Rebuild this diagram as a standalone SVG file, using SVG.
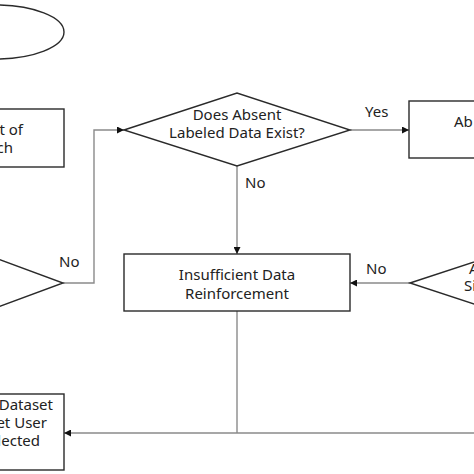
<svg xmlns="http://www.w3.org/2000/svg" width="474" height="474" viewBox="0 0 474 474">
<defs>
<style>
.shape{fill:#fff;stroke:#2a2a2a;stroke-width:1.4}
.conn{fill:none;stroke:#8a8a8a;stroke-width:1.4}
text{font-family:"Noto Sans","Open Sans","DejaVu Sans",sans-serif;font-size:15px;fill:#222}
.c{text-anchor:middle}
.e{text-anchor:end}
</style>
<marker id="arr" viewBox="0 0 10 10" refX="10" refY="5" markerWidth="7" markerHeight="7" markerUnits="userSpaceOnUse" orient="auto">
<path d="M0,0 L10,5 L0,10 z" fill="#111"/>
</marker>
</defs>
<rect width="474" height="474" fill="#fff"/>
<g id="connectors">
<path class="conn" d="M350,130 H409" marker-end="url(#arr)"/>
<path class="conn" d="M237,166 V254" marker-end="url(#arr)"/>
<path class="conn" d="M410,283 H350" marker-end="url(#arr)"/>
<path class="conn" d="M63,283 H94 V130 H124" marker-end="url(#arr)"/>
<path class="conn" d="M237,311 V433"/>
<path class="conn" d="M480,433 H64" marker-end="url(#arr)"/>
<text x="365" y="117">Yes</text>
<text x="245" y="188">No</text>
<text x="366" y="274">No</text>
<text x="59" y="267">No</text>
</g>
<g id="start">
<ellipse class="shape" cx="-5" cy="32" rx="69" ry="27"/>
</g>
<g id="box-top-left">
<rect class="shape" x="-20" y="109" width="84" height="58"/>
<text class="e" x="23" y="135">t of</text>
<text class="e" x="13" y="153">ch</text>
</g>
<g id="decision-absent">
<polygon class="shape" points="124,130 237,93 350,130 237,166"/>
<text class="c" x="237" y="120">Does Absent</text>
<text class="c" x="237" y="138">Labeled Data Exist?</text>
</g>
<g id="box-abs">
<rect class="shape" x="409" y="101" width="100" height="57"/>
<text x="454" y="127">Ab</text>
</g>
<g id="decision-left">
<polygon class="shape" points="-37,246 63,283 -37,320"/>
</g>
<g id="box-insufficient">
<rect class="shape" x="124" y="254" width="226" height="57"/>
<text class="c" x="237" y="280">Insufficient Data</text>
<text class="c" x="237" y="299">Reinforcement</text>
</g>
<g id="decision-right">
<polygon class="shape" points="410,283 523,246 636,283 523,320"/>
<text x="469" y="274">A</text>
<text x="464" y="291">Si</text>
</g>
<g id="box-bottom-left">
<rect class="shape" x="-20" y="394" width="84" height="76"/>
<text class="e" x="53" y="410">Dataset</text>
<text class="e" x="47" y="428">et User</text>
<text class="e" x="40" y="446">lected</text>
</g>
</svg>
